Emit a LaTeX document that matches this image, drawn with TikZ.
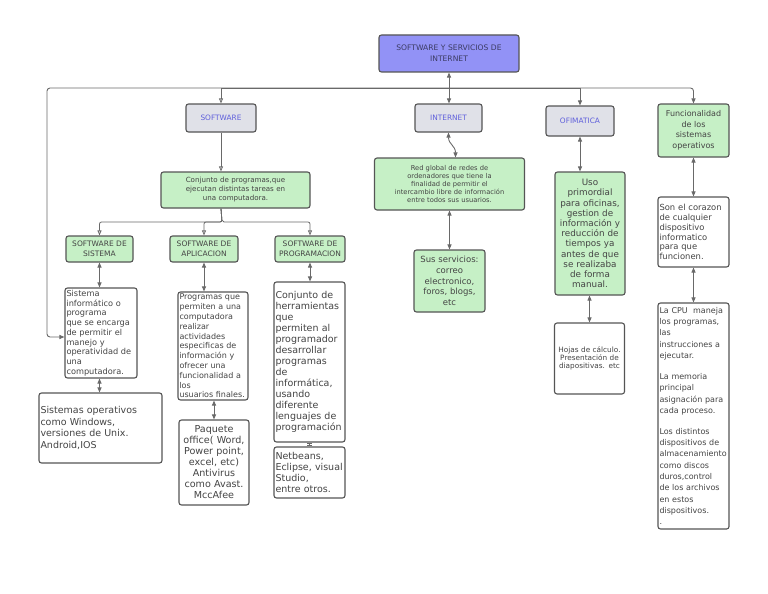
\documentclass[tikz,border=0pt]{standalone}
\usepackage{fontspec}
\setmainfont{DejaVu Sans}
\usetikzlibrary{arrows.meta}

\definecolor{titlefill}{RGB}{146,146,246}
\definecolor{grayfill}{RGB}{224,225,232}
\definecolor{greenfill}{RGB}{198,240,198}
\definecolor{boxline}{RGB}{85,85,85}
\definecolor{linecol}{RGB}{105,105,105}
\definecolor{textcol}{RGB}{68,68,68}
\definecolor{bluetext}{RGB}{95,95,220}

\begin{document}
\begin{tikzpicture}[x=1pt,y=-1pt,
  box/.style={draw=boxline, line width=1.1pt, rounded corners=2.5pt, inner xsep=1.5pt, inner ysep=1pt, text=textcol},
  titlebox/.style={box, fill=titlefill, align=center, text={rgb,255:red,60;green,60;blue,100}},
  graybox/.style={box, fill=grayfill, align=center, text=bluetext},
  greenbox/.style={box, fill=greenfill, align=center},
  whitebox/.style={box, fill=white, align=left},
  link/.style={draw=linecol, line width=0.9pt, -{Triangle[length=5pt,width=4pt]}},
  both/.style={link, {Triangle[length=5pt,width=4pt]}-{Triangle[length=5pt,width=4pt]}},
  openlink/.style={draw=linecol, line width=0.8pt, -{Triangle[open,length=5pt,width=4pt]}}]
\useasboundingbox (0,0) rectangle (768,594);
\fill[white] (0,0) rectangle (768,594);

\draw (449,53.5) node[titlebox, text width=137pt, minimum height=37pt, font=\fontsize{7.6}{11}\selectfont] (Title) {SOFTWARE Y SERVICIOS DE\\INTERNET};

\draw (221,118) node[graybox, text width=67pt, minimum height=28pt, font=\fontsize{7.4}{9}\selectfont] (Software) {SOFTWARE};
	\draw (235.5,190) node[greenbox, text width=146pt, minimum height=36pt, font=\fontsize{7.1}{9}\selectfont] (SwConj) {Conjunto de programas,que\\ejecutan distintas tareas en\\una computadora.};
		\draw (99.5,249) node[greenbox, text width=64pt, minimum height=26pt, font=\fontsize{7.5}{10}\selectfont] (SwSistema) {SOFTWARE DE\\SISTEMA};
			\draw (101,333) node[whitebox, text width=69pt, minimum height=90pt, font=\fontsize{8.2}{9.75}\selectfont] (SistemaTxt) {Sistema\\informático o\\programa\\que se encarga\\de permitir el\\manejo y\\operatividad de\\una\\computadora.};
			\draw (100.5,428) node[whitebox, text width=120pt, minimum height=70pt, font=\fontsize{9.5}{11.6}\selectfont] (SistemaEj) {Sistemas operativos\\como Windows,\\versiones de Unix.\\Android,IOS};
		\draw (204,249) node[greenbox, text width=65pt, minimum height=26pt, font=\fontsize{7.5}{10}\selectfont] (SwAplic) {SOFTWARE DE\\APLICACION};
			\draw (213,346) node[whitebox, text width=67pt, minimum height=108pt, font=\fontsize{8}{9.8}\selectfont] (AplicTxt) {Programas que\\permiten a una\\computadora\\realizar\\actividades\\especificas de\\información y\\ofrecer una\\funcionalidad a\\los\\usuarios finales.};
			\draw (214,462.5) node[whitebox, align=center, text width=67pt, minimum height=85pt, font=\fontsize{9.6}{11}\selectfont] (AplicEj) {Paquete\\office( Word,\\Power point,\\excel, etc)\\Antivirus\\como Avast.\\MccAfee};
		\draw (310,249) node[greenbox, text width=67pt, minimum height=26pt, font=\fontsize{7.5}{10}\selectfont] (SwProg) {SOFTWARE DE\\PROGRAMACION};
			\draw (309.5,362) node[whitebox, text width=68pt, minimum height=160pt, font=\fontsize{9.5}{11}\selectfont] (ProgTxt) {Conjunto de\\herramientas\\que\\permiten al\\programador\\desarrollar\\programas\\de\\informática,\\usando\\diferente\\lenguajes de\\programación};
			\draw (309.5,472.5) node[whitebox, text width=68pt, minimum height=51pt, font=\fontsize{9.5}{10.7}\selectfont] (ProgEj) {Netbeans,\\Eclipse, visual\\Studio,\\entre otros.};

\draw (448.5,118) node[graybox, text width=64pt, minimum height=28pt, font=\fontsize{7.4}{9}\selectfont] (Internet) {INTERNET};
	\draw (449.5,184) node[greenbox, text width=147pt, minimum height=52pt, font=\fontsize{6.7}{8.2}\selectfont] (RedGlobal) {Red global de redes de\\ordenadores que tiene la\\finalidad de permitir el\\intercambio libre de información\\entre todos sus usuarios.};
	\draw (449.5,281) node[greenbox, text width=68pt, minimum height=62pt, font=\fontsize{8.5}{10.7}\selectfont] (Servicios) {Sus servicios:\\correo\\electronico,\\foros, blogs,\\etc};

\draw (580,121) node[graybox, text width=65pt, minimum height=30pt, font=\fontsize{7.4}{9}\selectfont] (Ofimatica) {OFIMATICA};
	\draw (590,233.5) node[greenbox, text width=67pt, minimum height=123pt, font=\fontsize{8.8}{10.2}\selectfont] (UsoOfi) {Uso\\primordial\\para oficinas,\\gestion de\\información y\\reducción de\\tiempos ya\\antes de que\\se realizaba\\de forma\\manual.};
	\draw (589.5,358.5) node[whitebox, align=center, text width=67pt, minimum height=71pt, font=\fontsize{7.3}{8.3}\selectfont] (Hojas) {Hojas de cálculo.\\Presentación de\\diapositivas. etc};

\draw (693.5,130.5) node[greenbox, text width=68pt, minimum height=53pt, font=\fontsize{8}{10.5}\selectfont] (Funcion) {Funcionalidad\\de los\\sistemas\\operativos};
	\draw (693.5,232) node[whitebox, text width=68pt, minimum height=70pt, font=\fontsize{8.4}{9.8}\selectfont] (Corazon) {Son el corazon\\de cualquier\\dispositivo\\informatico\\para que\\funcionen.};
	\draw (693.5,416) node[whitebox, text width=68pt, minimum height=226pt, font=\fontsize{8}{11.3}\selectfont] (Cpu) {La CPU~ maneja\\los programas,\\las\\instrucciones a\\ejecutar.\\[9.7pt]La memoria\\principal\\asignación para\\cada proceso.\\[9.7pt]Los distintos\\dispositivos de\\almacenamiento\\como discos\\duros,control\\de los archivos\\en estos\\dispositivos.\\.};

\coordinate (Bus) at (449,88);
\coordinate (BusLeft) at (47,88);
\coordinate (Split) at (222,222);

\draw[both] (Title.south) -- (Title.south |- Internet.north);
\draw[openlink] (Bus) -| (Software.north);
\draw[link] (Bus) -| (Ofimatica.north);
\draw[link, rounded corners=3pt] (Bus) -| (Funcion.north);
\draw[link, rounded corners=3pt] (Bus) -- (BusLeft) |- ([yshift=-4pt]SistemaTxt.west);

\draw[openlink] (Software.south) -- (Software.south |- SwConj.north);
\draw[openlink, rounded corners=2pt] (Software |- SwConj.south) -- (Split) -| (SwSistema.north);
\draw[openlink, rounded corners=2pt] (Software |- SwConj.south) -- (Split) -| (SwAplic.north);
\draw[openlink, rounded corners=2pt] (Software |- SwConj.south) -- (Split) -| (SwProg.north);
\draw[both] (SwSistema.south) -- (SwSistema.south |- SistemaTxt.north);
\draw[both] (SistemaTxt.south -| SwSistema) -- (SistemaEj.north -| SwSistema);
\draw[both] (SwAplic.south) -- (SwAplic.south |- AplicTxt.north);
\draw[both] (AplicEj.north |- AplicTxt.south) -- (AplicEj.north);
\draw[both] (SwProg.south) -- (SwProg.south |- ProgTxt.north);
\draw[draw=linecol, line width=1.4pt, {Bar[width=5pt]}-{Bar[width=5pt]}] (ProgTxt.south) -- (ProgEj.north);

\draw[both] (Internet.south) .. controls +(0,12) and +(0,-12) .. ([xshift=6pt]RedGlobal.north);
\draw[both] (RedGlobal.south) -- (RedGlobal.south |- Servicios.north);
\draw[both] (Ofimatica.south) -- (Ofimatica.south |- UsoOfi.north);
\draw[both] (Hojas.north |- UsoOfi.south) -- (Hojas.north);
\draw[both] (Funcion.south) -- (Funcion.south |- Corazon.north);
\draw[both] (Corazon.south) -- (Corazon.south |- Cpu.north);
\end{tikzpicture}
\end{document}
